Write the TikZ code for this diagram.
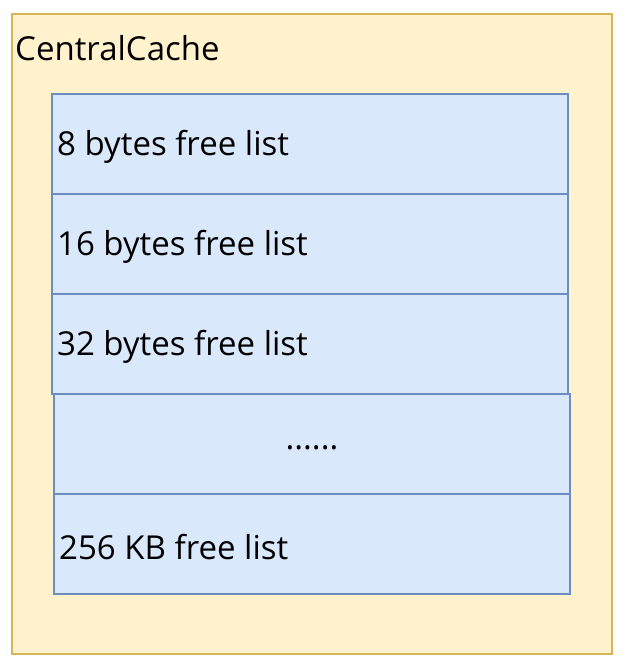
\documentclass[tikz,border=0pt]{standalone}
\usepackage{fontspec}
\setmainfont{Open Sans}
\definecolor{outerfill}{HTML}{FFF2CC}
\definecolor{outerdraw}{HTML}{D6B656}
\definecolor{innerfill}{HTML}{DAE8FC}
\definecolor{innerdraw}{HTML}{6C8EBF}
\begin{document}
\begin{tikzpicture}[x=1pt,y=-1pt,
  outerbox/.style={draw=outerdraw,fill=outerfill,line width=2pt,minimum width=600pt,minimum height=640pt,anchor=north west,inner sep=0pt},
  listbox/.style={draw=innerdraw,fill=innerfill,line width=2pt,minimum width=516pt,minimum height=100pt,anchor=north west,inner sep=0pt},
  lbl/.style={font=\fontsize{33}{38}\selectfont,anchor=west,inner sep=0pt}]
\useasboundingbox (0,0) rectangle (630,670);
\node[outerbox] (outer) at (11,13) {};
\node[lbl] (title) at (15,48) {CentralCache};
\node[listbox] (b1) at (51,93) {};
\node[listbox] (b2) at (51,193) {};
\node[listbox] (b3) at (51,293) {};
\node[listbox] (b4) at (53,393) {};
\node[listbox] (b5) at (53,493) {};
\node[lbl] (t1) at ([xshift=6pt,yshift=-3pt]b1.west) {8 bytes free list};
\node[lbl] (t2) at ([xshift=6pt,yshift=-3pt]b2.west) {16 bytes free list};
\node[lbl] (t3) at ([xshift=6pt,yshift=-3pt]b3.west) {32 bytes free list};
\node[lbl,anchor=center] (t4) at ([yshift=-4pt]b4.center) {......};
\node[lbl] (t5) at ([xshift=6pt,yshift=-3pt]b5.west) {256 KB free list};
\end{tikzpicture}
\end{document}
